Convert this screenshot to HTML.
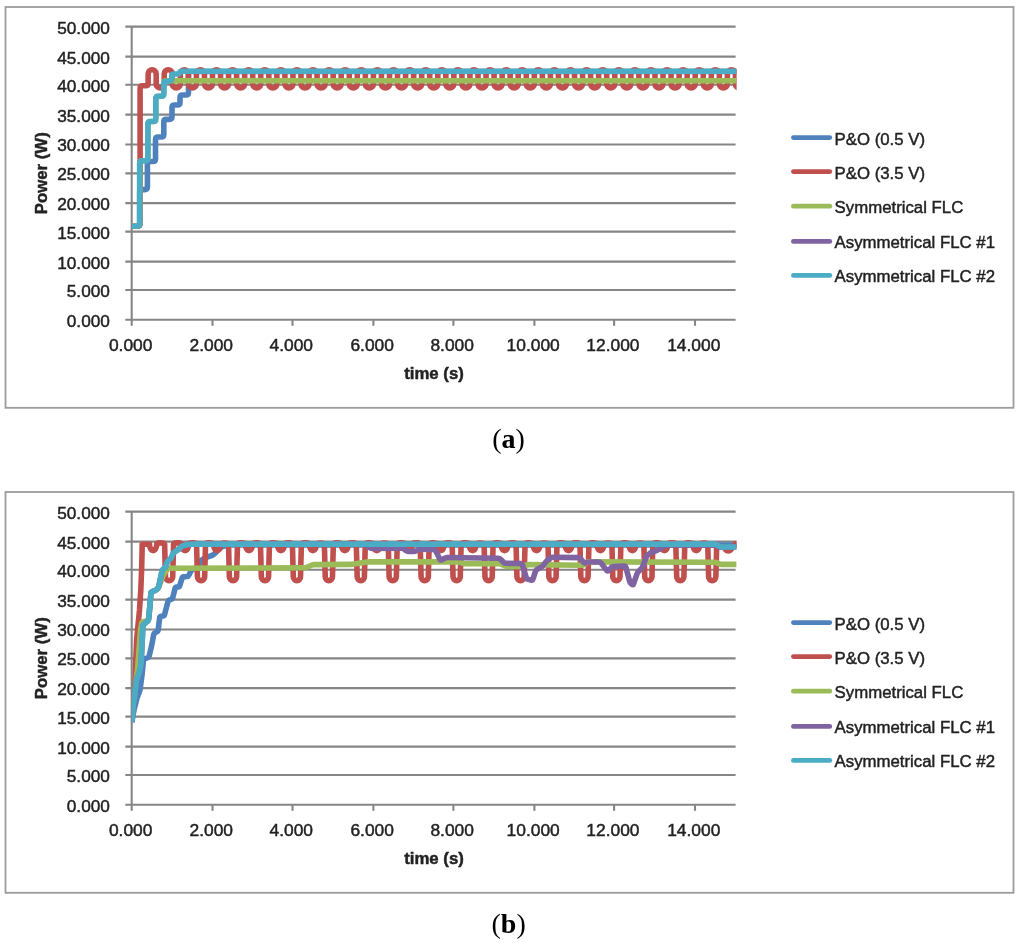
<!DOCTYPE html>
<html><head><meta charset="utf-8"><title>Power vs time</title>
<style>html,body{margin:0;padding:0;background:#fff;}body{width:1024px;height:943px;overflow:hidden;}svg{display:block;}text{stroke:#222;stroke-width:0.45px;}text.cap{stroke:none;}</style></head><body>
<svg width="1024" height="943" viewBox="0 0 1024 943">
<defs><clipPath id="clip0"><rect x="131.7" y="0" width="604.9000000000001" height="330"/></clipPath><clipPath id="clip1"><rect x="131.7" y="485" width="604.9000000000001" height="330"/></clipPath></defs>
<rect width="1024" height="943" fill="#fff"/>
<rect x="5.5" y="7.0" width="1008" height="400.8" fill="#fff" stroke="#9c9c9c" stroke-width="1.8"/>
<line x1="125.3" y1="26.6" x2="735.6" y2="26.6" stroke="#868686" stroke-width="2.1"/>
<line x1="125.3" y1="56.6" x2="735.6" y2="56.6" stroke="#868686" stroke-width="2.1"/>
<line x1="125.3" y1="84.7" x2="735.6" y2="84.7" stroke="#868686" stroke-width="2.1"/>
<line x1="125.3" y1="114.6" x2="735.6" y2="114.6" stroke="#868686" stroke-width="2.1"/>
<line x1="125.3" y1="144.5" x2="735.6" y2="144.5" stroke="#868686" stroke-width="2.1"/>
<line x1="125.3" y1="173.4" x2="735.6" y2="173.4" stroke="#868686" stroke-width="2.1"/>
<line x1="125.3" y1="203.1" x2="735.6" y2="203.1" stroke="#868686" stroke-width="2.1"/>
<line x1="125.3" y1="231.6" x2="735.6" y2="231.6" stroke="#868686" stroke-width="2.1"/>
<line x1="125.3" y1="261.6" x2="735.6" y2="261.6" stroke="#868686" stroke-width="2.1"/>
<line x1="125.3" y1="290.0" x2="735.6" y2="290.0" stroke="#868686" stroke-width="2.1"/>
<line x1="125.3" y1="319.7" x2="735.6" y2="319.7" stroke="#868686" stroke-width="2.1"/>
<line x1="131.7" y1="26.6" x2="131.7" y2="325.8" stroke="#868686" stroke-width="2.1"/>
<line x1="212.5" y1="319.7" x2="212.5" y2="325.8" stroke="#868686" stroke-width="2.1"/>
<line x1="292.5" y1="319.7" x2="292.5" y2="325.8" stroke="#868686" stroke-width="2.1"/>
<line x1="373.4" y1="319.7" x2="373.4" y2="325.8" stroke="#868686" stroke-width="2.1"/>
<line x1="453.4" y1="319.7" x2="453.4" y2="325.8" stroke="#868686" stroke-width="2.1"/>
<line x1="534.4" y1="319.7" x2="534.4" y2="325.8" stroke="#868686" stroke-width="2.1"/>
<line x1="614.1" y1="319.7" x2="614.1" y2="325.8" stroke="#868686" stroke-width="2.1"/>
<line x1="695.0" y1="319.7" x2="695.0" y2="325.8" stroke="#868686" stroke-width="2.1"/>
<g clip-path="url(#clip0)">
<path d="M131.90,226.20 L137.10,226.20 Q139.70,226.20 139.70,223.60 L139.70,192.20 Q139.70,189.60 142.30,189.60 L144.80,189.60 Q147.40,189.60 147.40,187.00 L147.40,164.10 Q147.40,161.50 150.00,161.50 L152.90,161.50 Q155.50,161.50 155.50,158.90 L155.50,139.60 Q155.50,137.00 158.10,137.00 L161.20,137.00 Q163.80,137.00 163.80,134.40 L163.80,122.00 Q163.80,119.40 166.40,119.40 L169.40,119.40 Q172.00,119.40 172.00,116.80 L172.00,107.60 Q172.00,105.00 174.60,105.00 L177.40,105.00 Q180.00,105.00 180.00,102.40 L180.00,97.60 Q180.00,95.00 182.60,95.00 L185.90,95.00 Q188.50,95.00 188.50,92.40 L188.50,74.10 Q188.50,71.50 191.10,71.50 L736.60,71.50" fill="none" stroke="#4F81BD" stroke-width="5.6" stroke-linejoin="round" stroke-linecap="butt"/>
<path d="M131.9,226.2 H137.6 Q140.1,226.2 140.1,223.7 V88.30 Q140.1,85.80 142.6,85.80 H145.64 Q148.14,85.80 148.14,83.30 V73.72 A4.022,4.022 0 0 1 156.19,73.72 V83.98 A4.022,4.022 0 0 0 164.23,83.98 V73.72 A4.022,4.022 0 0 1 172.28,73.72 V83.98 A4.022,4.022 0 0 0 180.32,83.98 V73.72 A4.022,4.022 0 0 1 188.37,73.72 V83.98 A4.022,4.022 0 0 0 196.41,83.98 V73.72 A4.022,4.022 0 0 1 204.46,73.72 V83.98 A4.022,4.022 0 0 0 212.50,83.98 V73.72 A4.022,4.022 0 0 1 220.55,73.72 V83.98 A4.022,4.022 0 0 0 228.59,83.98 V73.72 A4.022,4.022 0 0 1 236.64,73.72 V83.98 A4.022,4.022 0 0 0 244.68,83.98 V73.72 A4.022,4.022 0 0 1 252.73,73.72 V83.98 A4.022,4.022 0 0 0 260.77,83.98 V73.72 A4.022,4.022 0 0 1 268.82,73.72 V83.98 A4.022,4.022 0 0 0 276.87,83.98 V73.72 A4.022,4.022 0 0 1 284.91,73.72 V83.98 A4.022,4.022 0 0 0 292.95,83.98 V73.72 A4.022,4.022 0 0 1 301.00,73.72 V83.98 A4.022,4.022 0 0 0 309.05,83.98 V73.72 A4.022,4.022 0 0 1 317.09,73.72 V83.98 A4.022,4.022 0 0 0 325.14,83.98 V73.72 A4.022,4.022 0 0 1 333.18,73.72 V83.98 A4.022,4.022 0 0 0 341.22,83.98 V73.72 A4.022,4.022 0 0 1 349.27,73.72 V83.98 A4.022,4.022 0 0 0 357.31,83.98 V73.72 A4.022,4.022 0 0 1 365.36,73.72 V83.98 A4.022,4.022 0 0 0 373.41,83.98 V73.72 A4.022,4.022 0 0 1 381.45,73.72 V83.98 A4.022,4.022 0 0 0 389.50,83.98 V73.72 A4.022,4.022 0 0 1 397.54,73.72 V83.98 A4.022,4.022 0 0 0 405.58,83.98 V73.72 A4.022,4.022 0 0 1 413.63,73.72 V83.98 A4.022,4.022 0 0 0 421.68,83.98 V73.72 A4.022,4.022 0 0 1 429.72,73.72 V83.98 A4.022,4.022 0 0 0 437.77,83.98 V73.72 A4.022,4.022 0 0 1 445.81,73.72 V83.98 A4.022,4.022 0 0 0 453.85,83.98 V73.72 A4.022,4.022 0 0 1 461.90,73.72 V83.98 A4.022,4.022 0 0 0 469.94,83.98 V73.72 A4.022,4.022 0 0 1 477.99,73.72 V83.98 A4.022,4.022 0 0 0 486.04,83.98 V73.72 A4.022,4.022 0 0 1 494.08,73.72 V83.98 A4.022,4.022 0 0 0 502.13,83.98 V73.72 A4.022,4.022 0 0 1 510.17,73.72 V83.98 A4.022,4.022 0 0 0 518.21,83.98 V73.72 A4.022,4.022 0 0 1 526.26,73.72 V83.98 A4.022,4.022 0 0 0 534.30,83.98 V73.72 A4.022,4.022 0 0 1 542.35,73.72 V83.98 A4.022,4.022 0 0 0 550.39,83.98 V73.72 A4.022,4.022 0 0 1 558.44,73.72 V83.98 A4.022,4.022 0 0 0 566.48,83.98 V73.72 A4.022,4.022 0 0 1 574.53,73.72 V83.98 A4.022,4.022 0 0 0 582.57,83.98 V73.72 A4.022,4.022 0 0 1 590.62,73.72 V83.98 A4.022,4.022 0 0 0 598.66,83.98 V73.72 A4.022,4.022 0 0 1 606.71,73.72 V83.98 A4.022,4.022 0 0 0 614.75,83.98 V73.72 A4.022,4.022 0 0 1 622.80,73.72 V83.98 A4.022,4.022 0 0 0 630.84,83.98 V73.72 A4.022,4.022 0 0 1 638.89,73.72 V83.98 A4.022,4.022 0 0 0 646.93,83.98 V73.72 A4.022,4.022 0 0 1 654.98,73.72 V83.98 A4.022,4.022 0 0 0 663.02,83.98 V73.72 A4.022,4.022 0 0 1 671.07,73.72 V83.98 A4.022,4.022 0 0 0 679.12,83.98 V73.72 A4.022,4.022 0 0 1 687.16,73.72 V83.98 A4.022,4.022 0 0 0 695.20,83.98 V73.72 A4.022,4.022 0 0 1 703.25,73.72 V83.98 A4.022,4.022 0 0 0 711.29,83.98 V73.72 A4.022,4.022 0 0 1 719.34,73.72 V83.98 A4.022,4.022 0 0 0 727.38,83.98 V73.72 A4.022,4.022 0 0 1 735.43,73.72 V83.98 A4.022,4.022 0 0 0 743.48,83.98 V73.72 A4.022,4.022 0 0 1 751.52,73.72 V83.98" fill="none" stroke="#C0504D" stroke-width="5.6" stroke-linejoin="round" stroke-linecap="butt"/>
<path d="M131.90,226.20 L137.10,226.20 Q139.70,226.20 139.70,223.60 L139.70,163.30 Q139.70,160.70 142.30,160.70 L145.30,160.70 Q147.90,160.70 147.90,158.10 L147.90,124.10 Q147.90,121.50 150.50,121.50 L153.20,121.50 Q155.80,121.50 155.80,118.90 L155.80,98.90 Q155.80,96.30 158.40,96.30 L161.20,96.30 Q163.80,96.30 163.80,93.70 L163.80,83.30 Q163.80,80.70 166.40,80.70 L736.60,80.70" fill="none" stroke="#9BBB59" stroke-width="5.6" stroke-linejoin="round" stroke-linecap="butt"/>
<path d="M131.90,226.20 L137.10,226.20 Q139.70,226.20 139.70,223.60 L139.70,163.30 Q139.70,160.70 142.30,160.70 L145.30,160.70 Q147.90,160.70 147.90,158.10 L147.90,124.10 Q147.90,121.50 150.50,121.50 L153.20,121.50 Q155.80,121.50 155.80,118.90 L155.80,98.90 Q155.80,96.30 158.40,96.30 L161.20,96.30 Q163.80,96.30 163.80,93.70 L163.80,83.80 Q163.80,81.20 166.40,81.20 L169.20,81.20 Q171.80,81.20 171.80,78.60 L171.80,76.60 Q171.80,74.00 174.40,74.00 L177.91,74.00 Q179.30,74.00 179.65,72.65 L179.65,72.65 Q180.00,71.30 181.39,71.30 L736.60,71.30" fill="none" stroke="#4BACC6" stroke-width="5.6" stroke-linejoin="round" stroke-linecap="butt"/>
</g>
<g font-family="Liberation Sans, Arial, sans-serif" font-size="16.8" fill="#222222" text-anchor="end">
<text x="109.9" y="33.5" textLength="52.7" lengthAdjust="spacingAndGlyphs">50.000</text>
<text x="109.9" y="63.5" textLength="52.7" lengthAdjust="spacingAndGlyphs">45.000</text>
<text x="109.9" y="91.6" textLength="52.7" lengthAdjust="spacingAndGlyphs">40.000</text>
<text x="109.9" y="121.5" textLength="52.7" lengthAdjust="spacingAndGlyphs">35.000</text>
<text x="109.9" y="151.4" textLength="52.7" lengthAdjust="spacingAndGlyphs">30.000</text>
<text x="109.9" y="180.3" textLength="52.7" lengthAdjust="spacingAndGlyphs">25.000</text>
<text x="109.9" y="210.0" textLength="52.7" lengthAdjust="spacingAndGlyphs">20.000</text>
<text x="109.9" y="238.5" textLength="52.7" lengthAdjust="spacingAndGlyphs">15.000</text>
<text x="109.9" y="268.5" textLength="52.7" lengthAdjust="spacingAndGlyphs">10.000</text>
<text x="109.9" y="296.9" textLength="43.1" lengthAdjust="spacingAndGlyphs">5.000</text>
<text x="109.9" y="326.6" textLength="43.1" lengthAdjust="spacingAndGlyphs">0.000</text>
</g>
<g font-family="Liberation Sans, Arial, sans-serif" font-size="16.8" fill="#222222" text-anchor="middle">
<text x="130.7" y="350.7" textLength="43.5" lengthAdjust="spacingAndGlyphs">0.000</text>
<text x="211.3" y="350.7" textLength="43.5" lengthAdjust="spacingAndGlyphs">2.000</text>
<text x="291.3" y="350.7" textLength="43.5" lengthAdjust="spacingAndGlyphs">4.000</text>
<text x="372.2" y="350.7" textLength="43.5" lengthAdjust="spacingAndGlyphs">6.000</text>
<text x="452.2" y="350.7" textLength="43.5" lengthAdjust="spacingAndGlyphs">8.000</text>
<text x="533.2" y="350.7" textLength="53.2" lengthAdjust="spacingAndGlyphs">10.000</text>
<text x="612.9" y="350.7" textLength="53.2" lengthAdjust="spacingAndGlyphs">12.000</text>
<text x="693.8" y="350.7" textLength="53.2" lengthAdjust="spacingAndGlyphs">14.000</text>
</g>
<text x="434" y="378.8" font-family="Liberation Sans, Arial, sans-serif" font-size="16.8" font-weight="bold" fill="#222222" text-anchor="middle">time (s)</text>
<text transform="translate(47.3,173.3) rotate(-90)" x="0" y="0" font-family="Liberation Sans, Arial, sans-serif" font-size="16.8" font-weight="bold" fill="#222222" text-anchor="middle">Power (W)</text>
<line x1="793.4" y1="137.6" x2="829.8" y2="137.6" stroke="#4F81BD" stroke-width="4.7" stroke-linecap="round"/>
<text x="834.6" y="144.6" font-family="Liberation Sans, Arial, sans-serif" font-size="16.8" fill="#222222">P&amp;O (0.5 V)</text>
<line x1="793.4" y1="171.6" x2="829.8" y2="171.6" stroke="#C0504D" stroke-width="4.7" stroke-linecap="round"/>
<text x="834.6" y="178.6" font-family="Liberation Sans, Arial, sans-serif" font-size="16.8" fill="#222222">P&amp;O (3.5 V)</text>
<line x1="793.4" y1="206.2" x2="829.8" y2="206.2" stroke="#9BBB59" stroke-width="4.7" stroke-linecap="round"/>
<text x="834.6" y="213.2" font-family="Liberation Sans, Arial, sans-serif" font-size="16.8" fill="#222222">Symmetrical FLC</text>
<line x1="793.4" y1="241.4" x2="829.8" y2="241.4" stroke="#8064A2" stroke-width="4.7" stroke-linecap="round"/>
<text x="834.6" y="248.4" font-family="Liberation Sans, Arial, sans-serif" font-size="16.8" fill="#222222">Asymmetrical FLC #1</text>
<line x1="793.4" y1="275.4" x2="829.8" y2="275.4" stroke="#4BACC6" stroke-width="4.7" stroke-linecap="round"/>
<text x="834.6" y="282.4" font-family="Liberation Sans, Arial, sans-serif" font-size="16.8" fill="#222222">Asymmetrical FLC #2</text>
<rect x="5.5" y="492.0" width="1008" height="400.8" fill="#fff" stroke="#9c9c9c" stroke-width="1.8"/>
<line x1="125.3" y1="511.6" x2="735.6" y2="511.6" stroke="#868686" stroke-width="2.1"/>
<line x1="125.3" y1="541.6" x2="735.6" y2="541.6" stroke="#868686" stroke-width="2.1"/>
<line x1="125.3" y1="569.7" x2="735.6" y2="569.7" stroke="#868686" stroke-width="2.1"/>
<line x1="125.3" y1="599.6" x2="735.6" y2="599.6" stroke="#868686" stroke-width="2.1"/>
<line x1="125.3" y1="629.5" x2="735.6" y2="629.5" stroke="#868686" stroke-width="2.1"/>
<line x1="125.3" y1="658.4" x2="735.6" y2="658.4" stroke="#868686" stroke-width="2.1"/>
<line x1="125.3" y1="688.1" x2="735.6" y2="688.1" stroke="#868686" stroke-width="2.1"/>
<line x1="125.3" y1="716.6" x2="735.6" y2="716.6" stroke="#868686" stroke-width="2.1"/>
<line x1="125.3" y1="746.6" x2="735.6" y2="746.6" stroke="#868686" stroke-width="2.1"/>
<line x1="125.3" y1="775.0" x2="735.6" y2="775.0" stroke="#868686" stroke-width="2.1"/>
<line x1="125.3" y1="804.7" x2="735.6" y2="804.7" stroke="#868686" stroke-width="2.1"/>
<line x1="131.7" y1="511.6" x2="131.7" y2="810.8" stroke="#868686" stroke-width="2.1"/>
<line x1="212.5" y1="804.7" x2="212.5" y2="810.8" stroke="#868686" stroke-width="2.1"/>
<line x1="292.5" y1="804.7" x2="292.5" y2="810.8" stroke="#868686" stroke-width="2.1"/>
<line x1="373.4" y1="804.7" x2="373.4" y2="810.8" stroke="#868686" stroke-width="2.1"/>
<line x1="453.4" y1="804.7" x2="453.4" y2="810.8" stroke="#868686" stroke-width="2.1"/>
<line x1="534.4" y1="804.7" x2="534.4" y2="810.8" stroke="#868686" stroke-width="2.1"/>
<line x1="614.1" y1="804.7" x2="614.1" y2="810.8" stroke="#868686" stroke-width="2.1"/>
<line x1="695.0" y1="804.7" x2="695.0" y2="810.8" stroke="#868686" stroke-width="2.1"/>
<g clip-path="url(#clip1)">
<path d="M131.90,722.00 L133.76,711.38 Q134.00,710.00 134.34,708.64 L136.66,699.36 Q137.00,698.00 137.49,696.69 L139.51,691.31 Q140.00,690.00 140.19,688.61 L141.81,676.39 Q142.00,675.00 142.14,673.61 L143.46,660.39 Q143.60,659.00 144.95,658.61 L147.45,657.89 Q148.80,657.50 149.13,656.14 L151.47,646.36 Q151.80,645.00 152.05,643.62 L153.75,634.38 Q154.00,633.00 155.31,632.51 L156.69,631.99 Q158.00,631.50 158.17,630.11 L159.63,617.89 Q159.80,616.50 161.18,616.28 L162.82,616.02 Q164.20,615.80 164.56,614.45 L168.04,601.35 Q168.40,600.00 169.78,599.75 L170.92,599.55 Q172.30,599.30 172.65,597.94 L175.05,588.56 Q175.40,587.20 176.80,587.13 L177.90,587.07 Q179.30,587.00 179.71,585.66 L181.99,578.34 Q182.40,577.00 183.79,576.86 L186.81,576.54 Q188.20,576.40 188.84,575.16 L190.86,571.24 Q191.50,570.00 192.76,569.39 L194.74,568.41 Q196.00,567.80 197.02,566.84 L197.98,565.96 Q199.00,565.00 199.63,563.75 L200.87,561.25 Q201.50,560.00 202.69,559.25 L203.81,558.55 Q205.00,557.80 206.33,557.37 L208.67,556.63 Q210.00,556.20 211.29,555.65 L212.71,555.05 Q214.00,554.50 214.92,553.45 L216.58,551.55 Q217.50,550.50 218.55,549.57 L220.95,547.43 Q222.00,546.50 223.36,546.16 L226.64,545.34 Q228.00,545.00 229.40,545.00 L736.60,545.00" fill="none" stroke="#4F81BD" stroke-width="5.6" stroke-linejoin="round" stroke-linecap="butt"/>
<path d="M131.9,722.0 L133.4,705.0 L134.5,693.0 L135.3,680.0 L135.6,665.0 L136.6,640.0 L139.5,610.0 L140.8,590.0 L141.6,570.0 L142.0,555.0 L142.2,544.2 L149.50,544.20 A3.6,6.40 0 0 0 156.70,544.20 A3.95,1.3 0 0 1 164.60,544.20 L165.50,577.00 A3.6,3.6 0 0 0 172.70,577.00 L173.60,544.20 A3.95,1.3 0 0 1 181.50,544.20 A3.6,6.40 0 0 0 188.70,544.20 A3.92,1.3 0 0 1 196.55,544.20 L197.45,577.00 A3.6,3.6 0 0 0 204.65,577.00 L205.55,544.20 A3.95,1.3 0 0 1 213.45,544.20 A3.6,6.40 0 0 0 220.65,544.20 A3.93,1.3 0 0 1 228.50,544.20 L229.40,577.00 A3.6,3.6 0 0 0 236.60,577.00 L237.50,544.20 A3.95,1.3 0 0 1 245.40,544.20 A3.6,6.40 0 0 0 252.60,544.20 A3.92,1.3 0 0 1 260.45,544.20 L261.35,577.00 A3.6,3.6 0 0 0 268.55,577.00 L269.45,544.20 A3.95,1.3 0 0 1 277.35,544.20 A3.6,6.40 0 0 0 284.55,544.20 A3.92,1.3 0 0 1 292.40,544.20 L293.30,577.00 A3.6,3.6 0 0 0 300.50,577.00 L301.40,544.20 A3.95,1.3 0 0 1 309.30,544.20 A3.6,6.40 0 0 0 316.50,544.20 A3.93,1.3 0 0 1 324.35,544.20 L325.25,577.00 A3.6,3.6 0 0 0 332.45,577.00 L333.35,544.20 A3.95,1.3 0 0 1 341.25,544.20 A3.6,6.40 0 0 0 348.45,544.20 A3.92,1.3 0 0 1 356.30,544.20 L357.20,577.00 A3.6,3.6 0 0 0 364.40,577.00 L365.30,544.20 A3.95,1.3 0 0 1 373.20,544.20 A3.6,6.40 0 0 0 380.40,544.20 A3.93,1.3 0 0 1 388.25,544.20 L389.15,577.00 A3.6,3.6 0 0 0 396.35,577.00 L397.25,544.20 A3.95,1.3 0 0 1 405.15,544.20 A3.6,6.40 0 0 0 412.35,544.20 A3.92,1.3 0 0 1 420.20,544.20 L421.10,577.00 A3.6,3.6 0 0 0 428.30,577.00 L429.20,544.20 A3.95,1.3 0 0 1 437.10,544.20 A3.6,6.40 0 0 0 444.30,544.20 A3.92,1.3 0 0 1 452.15,544.20 L453.05,577.00 A3.6,3.6 0 0 0 460.25,577.00 L461.15,544.20 A3.95,1.3 0 0 1 469.05,544.20 A3.6,6.40 0 0 0 476.25,544.20 A3.93,1.3 0 0 1 484.10,544.20 L485.00,577.00 A3.6,3.6 0 0 0 492.20,577.00 L493.10,544.20 A3.95,1.3 0 0 1 501.00,544.20 A3.6,6.40 0 0 0 508.20,544.20 A3.92,1.3 0 0 1 516.05,544.20 L516.95,577.00 A3.6,3.6 0 0 0 524.15,577.00 L525.05,544.20 A3.95,1.3 0 0 1 532.95,544.20 A3.6,6.40 0 0 0 540.15,544.20 A3.93,1.3 0 0 1 548.00,544.20 L548.90,577.00 A3.6,3.6 0 0 0 556.10,577.00 L557.00,544.20 A3.95,1.3 0 0 1 564.90,544.20 A3.6,6.40 0 0 0 572.10,544.20 A3.92,1.3 0 0 1 579.95,544.20 L580.85,577.00 A3.6,3.6 0 0 0 588.05,577.00 L588.95,544.20 A3.95,1.3 0 0 1 596.85,544.20 A3.6,6.40 0 0 0 604.05,544.20 A3.93,1.3 0 0 1 611.90,544.20 L612.80,577.00 A3.6,3.6 0 0 0 620.00,577.00 L620.90,544.20 A3.95,1.3 0 0 1 628.80,544.20 A3.6,6.40 0 0 0 636.00,544.20 A3.93,1.3 0 0 1 643.85,544.20 L644.75,577.00 A3.6,3.6 0 0 0 651.95,577.00 L652.85,544.20 A3.95,1.3 0 0 1 660.75,544.20 A3.6,6.40 0 0 0 667.95,544.20 A3.92,1.3 0 0 1 675.80,544.20 L676.70,577.00 A3.6,3.6 0 0 0 683.90,577.00 L684.80,544.20 A3.95,1.3 0 0 1 692.70,544.20 A3.6,6.40 0 0 0 699.90,544.20 A3.93,1.3 0 0 1 707.75,544.20 L708.65,577.00 A3.6,3.6 0 0 0 715.85,577.00 L716.75,544.20 L718.25,547.20 L724.65,547.20 A3.6,3.70 0 0 0 731.85,547.20 L731.50,547.20 Q735,547.20 735.5,543.50 L746.6,542.50" fill="none" stroke="#C0504D" stroke-width="5.6" stroke-linejoin="round" stroke-linecap="butt"/>
<path d="M131.90,722.00 L133.09,706.40 Q133.20,705.00 133.44,703.62 L134.16,699.38 Q134.40,698.00 134.54,696.61 L135.06,691.39 Q135.20,690.00 135.34,688.61 L136.06,681.39 Q136.20,680.00 136.38,678.61 L137.32,671.39 Q137.50,670.00 137.60,668.60 L138.90,651.40 Q139.00,650.00 139.10,648.60 L140.40,631.40 Q140.50,630.00 140.76,628.62 L141.74,623.38 Q142.00,622.00 143.36,621.69 L147.14,620.81 Q148.50,620.50 148.63,619.11 L149.87,606.39 Q150.00,605.00 150.11,603.60 L150.89,593.40 Q151.00,592.00 152.32,591.52 L155.18,590.48 Q156.50,590.00 157.33,588.87 L157.87,588.13 Q158.70,587.00 159.19,585.69 L162.51,576.81 Q163.00,575.50 163.79,574.34 L167.21,569.36 Q168.00,568.20 169.40,568.20 L304.40,567.80 Q305.80,567.80 307.07,567.22 L311.53,565.18 Q312.80,564.60 314.20,564.59 L349.10,564.41 Q350.50,564.40 351.89,564.21 L367.11,562.09 Q368.50,561.90 369.90,561.90 L458.10,561.90 Q459.50,561.90 460.81,562.41 L463.09,563.29 Q464.40,563.80 465.80,563.80 L499.10,563.80 Q500.50,563.80 501.77,564.38 L505.13,565.92 Q506.40,566.50 507.80,566.50 L519.60,566.50 Q521.00,566.50 522.35,566.13 L526.65,564.97 Q528.00,564.60 529.40,564.62 L581.60,565.18 Q583.00,565.20 584.17,564.43 L586.83,562.67 Q588.00,561.90 589.40,561.90 L714.60,562.30 Q716.00,562.30 717.27,562.89 L719.23,563.81 Q720.50,564.40 721.90,564.40 L736.60,564.40" fill="none" stroke="#9BBB59" stroke-width="5.6" stroke-linejoin="round" stroke-linecap="butt"/>
<path d="M131.90,722.00 L133.09,706.40 Q133.20,705.00 133.44,703.62 L134.16,699.38 Q134.40,698.00 134.54,696.61 L135.06,691.39 Q135.20,690.00 135.38,688.61 L136.32,681.39 Q136.50,680.00 136.99,678.69 L139.01,673.31 Q139.50,672.00 139.79,670.63 L140.71,666.37 Q141.00,665.00 141.07,663.60 L141.93,646.40 Q142.00,645.00 142.07,643.60 L142.93,626.40 Q143.00,625.00 144.08,624.11 L147.42,621.39 Q148.50,620.50 148.63,619.11 L149.87,606.39 Q150.00,605.00 150.11,603.60 L150.89,593.40 Q151.00,592.00 152.32,591.52 L155.18,590.48 Q156.50,590.00 157.33,588.87 L157.87,588.13 Q158.70,587.00 158.98,585.63 L162.02,570.87 Q162.30,569.50 163.49,568.76 L164.31,568.24 Q165.50,567.50 165.91,566.16 L167.09,562.34 Q167.50,561.00 168.64,560.19 L169.86,559.31 Q171.00,558.50 171.54,557.21 L172.96,553.79 Q173.50,552.50 174.70,551.78 L177.30,550.22 Q178.50,549.50 179.50,548.52 L181.30,546.78 Q182.30,545.80 183.67,545.53 L188.63,544.57 Q190.00,544.30 191.40,544.30 L363.60,544.30 Q365.00,544.30 366.12,545.14 L369.38,547.56 Q370.50,548.40 371.90,548.40 L401.60,548.30 Q403.00,548.30 404.09,549.17 L405.91,550.63 Q407.00,551.50 408.40,551.50 L413.60,551.50 Q415.00,551.50 416.21,550.80 L417.79,549.90 Q419.00,549.20 420.40,549.23 L433.60,549.47 Q435.00,549.50 435.63,550.75 L439.87,559.25 Q440.50,560.50 441.73,559.83 L444.77,558.17 Q446.00,557.50 447.40,557.52 L498.20,558.28 Q499.60,558.30 500.58,559.30 L503.52,562.30 Q504.50,563.30 505.90,563.32 L520.60,563.48 Q522.00,563.50 522.40,564.84 L526.20,577.66 Q526.60,579.00 527.96,579.34 L531.14,580.16 Q532.50,580.50 532.94,579.17 L535.56,571.13 Q536.00,569.80 537.25,569.17 L540.95,567.33 Q542.20,566.70 543.05,565.58 L546.05,561.62 Q546.90,560.50 548.06,559.71 L550.44,558.09 Q551.60,557.30 553.00,557.31 L578.30,557.59 Q579.70,557.60 580.59,558.68 L583.51,562.22 Q584.40,563.30 585.74,562.89 L587.26,562.41 Q588.60,562.00 590.00,562.00 L598.90,562.00 Q600.30,562.00 601.15,563.12 L606.65,570.38 Q607.50,571.50 608.49,570.51 L611.51,567.49 Q612.50,566.50 613.90,566.45 L624.10,566.05 Q625.50,566.00 625.87,567.35 L629.63,581.15 Q630.00,582.50 631.02,583.46 L631.98,584.34 Q633.00,585.30 633.46,583.98 L637.04,573.82 Q637.50,572.50 638.49,571.51 L641.21,568.79 Q642.20,567.80 642.70,566.49 L646.40,556.81 Q646.90,555.50 648.05,554.70 L650.45,553.00 Q651.60,552.20 652.93,551.75 L654.97,551.05 Q656.30,550.60 657.53,549.93 L660.77,548.17 Q662.00,547.50 663.29,546.96 L666.71,545.54 Q668.00,545.00 669.40,545.00 L714.60,545.00 Q716.00,545.00 717.25,545.63 L718.75,546.37 Q720.00,547.00 721.40,547.00 L736.60,547.00" fill="none" stroke="#8064A2" stroke-width="5.6" stroke-linejoin="round" stroke-linecap="butt"/>
<path d="M131.90,722.00 L133.09,706.40 Q133.20,705.00 133.44,703.62 L134.16,699.38 Q134.40,698.00 134.54,696.61 L135.06,691.39 Q135.20,690.00 135.38,688.61 L136.32,681.39 Q136.50,680.00 136.99,678.69 L139.01,673.31 Q139.50,672.00 139.79,670.63 L140.71,666.37 Q141.00,665.00 141.07,663.60 L141.93,646.40 Q142.00,645.00 142.07,643.60 L142.93,626.40 Q143.00,625.00 144.08,624.11 L147.42,621.39 Q148.50,620.50 148.63,619.11 L149.87,606.39 Q150.00,605.00 150.11,603.60 L150.89,593.40 Q151.00,592.00 152.32,591.52 L155.18,590.48 Q156.50,590.00 157.33,588.87 L157.87,588.13 Q158.70,587.00 158.98,585.63 L162.02,570.87 Q162.30,569.50 163.49,568.76 L164.31,568.24 Q165.50,567.50 165.91,566.16 L167.09,562.34 Q167.50,561.00 168.64,560.19 L169.86,559.31 Q171.00,558.50 171.54,557.21 L172.96,553.79 Q173.50,552.50 174.70,551.78 L177.30,550.22 Q178.50,549.50 179.50,548.52 L181.30,546.78 Q182.30,545.80 183.67,545.50 L188.63,544.40 Q190.00,544.10 191.40,544.10 L714.60,544.10 Q716.00,544.10 717.13,544.92 L718.87,546.18 Q720.00,547.00 721.40,547.00 L736.60,547.00" fill="none" stroke="#4BACC6" stroke-width="5.6" stroke-linejoin="round" stroke-linecap="butt"/>
</g>
<g font-family="Liberation Sans, Arial, sans-serif" font-size="16.8" fill="#222222" text-anchor="end">
<text x="109.9" y="518.5" textLength="52.7" lengthAdjust="spacingAndGlyphs">50.000</text>
<text x="109.9" y="548.5" textLength="52.7" lengthAdjust="spacingAndGlyphs">45.000</text>
<text x="109.9" y="576.6" textLength="52.7" lengthAdjust="spacingAndGlyphs">40.000</text>
<text x="109.9" y="606.5" textLength="52.7" lengthAdjust="spacingAndGlyphs">35.000</text>
<text x="109.9" y="636.4" textLength="52.7" lengthAdjust="spacingAndGlyphs">30.000</text>
<text x="109.9" y="665.3" textLength="52.7" lengthAdjust="spacingAndGlyphs">25.000</text>
<text x="109.9" y="695.0" textLength="52.7" lengthAdjust="spacingAndGlyphs">20.000</text>
<text x="109.9" y="723.5" textLength="52.7" lengthAdjust="spacingAndGlyphs">15.000</text>
<text x="109.9" y="753.5" textLength="52.7" lengthAdjust="spacingAndGlyphs">10.000</text>
<text x="109.9" y="781.9" textLength="43.1" lengthAdjust="spacingAndGlyphs">5.000</text>
<text x="109.9" y="811.6" textLength="43.1" lengthAdjust="spacingAndGlyphs">0.000</text>
</g>
<g font-family="Liberation Sans, Arial, sans-serif" font-size="16.8" fill="#222222" text-anchor="middle">
<text x="130.7" y="835.7" textLength="43.5" lengthAdjust="spacingAndGlyphs">0.000</text>
<text x="211.3" y="835.7" textLength="43.5" lengthAdjust="spacingAndGlyphs">2.000</text>
<text x="291.3" y="835.7" textLength="43.5" lengthAdjust="spacingAndGlyphs">4.000</text>
<text x="372.2" y="835.7" textLength="43.5" lengthAdjust="spacingAndGlyphs">6.000</text>
<text x="452.2" y="835.7" textLength="43.5" lengthAdjust="spacingAndGlyphs">8.000</text>
<text x="533.2" y="835.7" textLength="53.2" lengthAdjust="spacingAndGlyphs">10.000</text>
<text x="612.9" y="835.7" textLength="53.2" lengthAdjust="spacingAndGlyphs">12.000</text>
<text x="693.8" y="835.7" textLength="53.2" lengthAdjust="spacingAndGlyphs">14.000</text>
</g>
<text x="434" y="863.8" font-family="Liberation Sans, Arial, sans-serif" font-size="16.8" font-weight="bold" fill="#222222" text-anchor="middle">time (s)</text>
<text transform="translate(47.3,658.3) rotate(-90)" x="0" y="0" font-family="Liberation Sans, Arial, sans-serif" font-size="16.8" font-weight="bold" fill="#222222" text-anchor="middle">Power (W)</text>
<line x1="793.4" y1="622.6" x2="829.8" y2="622.6" stroke="#4F81BD" stroke-width="4.7" stroke-linecap="round"/>
<text x="834.6" y="629.6" font-family="Liberation Sans, Arial, sans-serif" font-size="16.8" fill="#222222">P&amp;O (0.5 V)</text>
<line x1="793.4" y1="656.6" x2="829.8" y2="656.6" stroke="#C0504D" stroke-width="4.7" stroke-linecap="round"/>
<text x="834.6" y="663.6" font-family="Liberation Sans, Arial, sans-serif" font-size="16.8" fill="#222222">P&amp;O (3.5 V)</text>
<line x1="793.4" y1="691.2" x2="829.8" y2="691.2" stroke="#9BBB59" stroke-width="4.7" stroke-linecap="round"/>
<text x="834.6" y="698.2" font-family="Liberation Sans, Arial, sans-serif" font-size="16.8" fill="#222222">Symmetrical FLC</text>
<line x1="793.4" y1="726.4" x2="829.8" y2="726.4" stroke="#8064A2" stroke-width="4.7" stroke-linecap="round"/>
<text x="834.6" y="733.4" font-family="Liberation Sans, Arial, sans-serif" font-size="16.8" fill="#222222">Asymmetrical FLC #1</text>
<line x1="793.4" y1="760.4" x2="829.8" y2="760.4" stroke="#4BACC6" stroke-width="4.7" stroke-linecap="round"/>
<text x="834.6" y="767.4" font-family="Liberation Sans, Arial, sans-serif" font-size="16.8" fill="#222222">Asymmetrical FLC #2</text>
<text class="cap" x="508.6" y="447.8" font-family="Liberation Serif, Times New Roman, serif" font-size="28" fill="#000" text-anchor="middle">(<tspan font-weight="bold">a</tspan>)</text>
<text class="cap" x="508.6" y="933.1" font-family="Liberation Serif, Times New Roman, serif" font-size="28" fill="#000" text-anchor="middle">(<tspan font-weight="bold">b</tspan>)</text>
</svg></body></html>
